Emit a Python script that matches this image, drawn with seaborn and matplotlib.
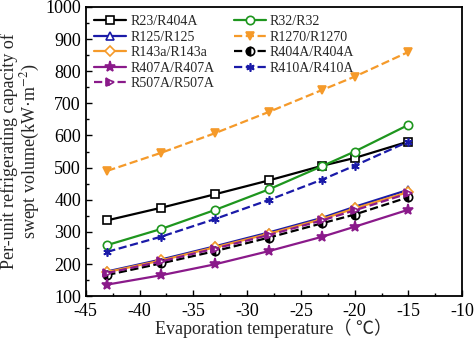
import matplotlib
matplotlib.use("Agg")
import matplotlib.pyplot as plt
from matplotlib.ticker import MultipleLocator
import pandas as pd
import seaborn as sns

temps = [-43, -38, -33, -28, -23, -20, -15]

r23_r404a = [336, 375, 417, 460, 506, 530, 581]
r32_r32 = [259, 309, 368, 432, 505, 550, 633]
r125_r125 = [177, 214, 255, 298, 344, 378, 431]
r1270_r1270 = [490, 546, 607, 673, 742, 783, 860]
r143a_r143a = [175, 211, 252, 294, 340, 373, 424]
r404a_r404a = [166, 202, 240, 282, 327, 354, 408]
r407a_r407a = [136, 165, 199, 240, 285, 316, 369]
r410a_r410a = [238, 285, 340, 399, 463, 506, 581]
r507a_r507a = [172, 208, 248, 290, 336, 367, 420]

names = ["R23/R404A", "R32/R32", "R125/R125", "R1270/R1270", "R143a/R143a",
         "R404A/R404A", "R407A/R407A", "R410A/R410A", "R507A/R507A"]
values = [r23_r404a, r32_r32, r125_r125, r1270_r1270, r143a_r143a,
          r404a_r404a, r407a_r407a, r410a_r410a, r507a_r507a]

sns.set_theme(style="ticks")
plt.rcParams["font.family"] = ["Liberation Serif", "Noto Sans CJK SC", "DejaVu Sans"]
plt.rcParams["mathtext.fontset"] = "stix"
plt.rcParams["axes.unicode_minus"] = False

black = "#000000"
green = "#1e961e"
blue = "#1a1aa8"
orange = "#f59a2a"
purple = "#8a1a8a"

styles = {
    "R23/R404A": dict(color=black, marker="s", ls="-", mfc="white", fs="full"),
    "R32/R32": dict(color=green, marker="o", ls="-", mfc="white", fs="full"),
    "R125/R125": dict(color=blue, marker="^", ls="-", mfc="white", fs="full"),
    "R1270/R1270": dict(color=orange, marker="v", ls="--", mfc=orange, fs="full"),
    "R143a/R143a": dict(color=orange, marker="D", ls="-", mfc="white", fs="full"),
    "R404A/R404A": dict(color=black, marker="o", ls="--", mfc=black, fs="left"),
    "R407A/R407A": dict(color=purple, marker="*", ls="-", mfc=purple, fs="full"),
    "R410A/R410A": dict(color=blue, marker=(6, 2, 0), ls="--", mfc=blue, fs="full"),
    "R507A/R507A": dict(color=purple, marker=">", ls="--", mfc=purple, fs="left"),
}

df = pd.DataFrame(
    [(n, t, v) for n, vals in zip(names, values) for t, v in zip(temps, vals)],
    columns=["series", "temp", "cap"],
)

fig = plt.figure(figsize=(4.74, 3.48), dpi=100)
ax = fig.add_axes([0.181, 0.149, 0.794, 0.831])

for n in names:
    st = styles[n]
    sub = df[df["series"] == n]
    ms = 8 if st["marker"] == "*" else (5 if st["marker"] == "D" else 6)
    sns.lineplot(data=sub, x="temp", y="cap", ax=ax, label=n,
                 color=st["color"], linestyle=st["ls"], linewidth=1.6,
                 marker=st["marker"], markersize=ms,
                 markerfacecolor=st["mfc"], markeredgecolor=st["color"],
                 markeredgewidth=1.2, fillstyle=st["fs"],
                 markerfacecoloralt="white",
                 dashes=False if st["ls"] == "-" else (4, 2.8))

ax.set_xlim(-45, -10)
ax.set_ylim(100, 1000)
ax.xaxis.set_major_locator(MultipleLocator(5))
ax.xaxis.set_minor_locator(MultipleLocator(2.5))
ax.yaxis.set_major_locator(MultipleLocator(100))
ax.yaxis.set_minor_locator(MultipleLocator(50))
ax.tick_params(which="both", direction="in", top=False, right=False,
               labelsize=13, colors="black")
ax.tick_params(which="major", length=4, width=1)
ax.tick_params(which="minor", length=2.5, width=1)
ax.tick_params(axis="x", pad=5)
for sp in ax.spines.values():
    sp.set_linewidth(1.3)
    sp.set_color("black")

ax.set_xlabel("Evaporation temperature（ ℃）", fontsize=13, labelpad=-1)
ax.set_ylabel("Per-unit refrigerating capacity of\nswept volume(kW·m$^{-2}$)",
              fontsize=13, labelpad=2, linespacing=1.1)

# legend filled row by row across two columns
handles, labels = ax.get_legend_handles_labels()
order = [0, 2, 4, 6, 8, 1, 3, 5, 7]
ax.legend([handles[i] for i in order], [labels[i] for i in order],
          loc="upper left", ncol=2, frameon=False, fontsize=10,
          handlelength=2.3, labelspacing=0.18, columnspacing=1.4,
          handletextpad=0.3, borderaxespad=0.2, bbox_to_anchor=(0.0, 1.0))

fig.savefig("out.png", dpi=100)
